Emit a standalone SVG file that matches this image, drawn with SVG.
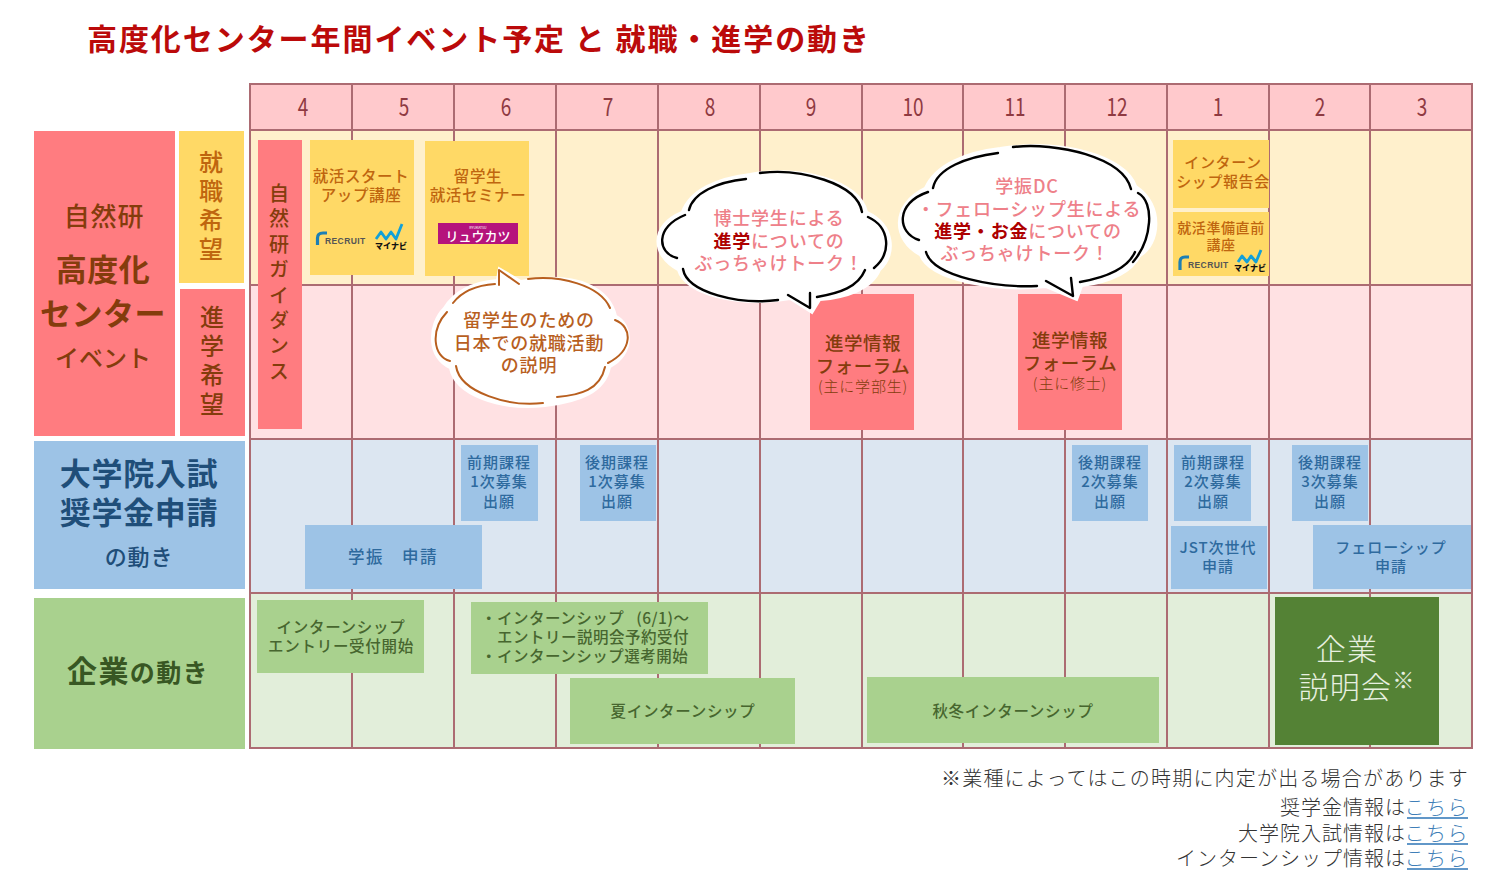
<svg xmlns="http://www.w3.org/2000/svg" width="1512" height="888" viewBox="0 0 1512 888">
<style>
text{font-family:"Noto Sans CJK JP","Noto Sans",sans-serif;text-anchor:middle}
.grid{stroke:#ac6b72;stroke-width:2;fill:none}
.b{font-weight:700}
.m{font-weight:500}
.or{fill:#bf660f;font-weight:500;letter-spacing:.6px}
.br{fill:#843c0c}
.bl{fill:#2e6a9e;font-weight:500;letter-spacing:1px}
.gr{fill:#47662f;font-weight:500;letter-spacing:.7px}
.v{writing-mode:vertical-rl;text-orientation:upright}
.cw{fill:#fff;stroke:#fff;stroke-width:2}
.ck{fill:none;stroke:#000;stroke-width:2.400;stroke-linecap:round;stroke-linejoin:round}
.co{fill:none;stroke:#b85f1f;stroke-width:2;stroke-linecap:round;stroke-linejoin:round}
.pk{fill:#ee8089;letter-spacing:.8px}
.dr{fill:#ad0000;font-weight:700}
.foot{font-size:20px;font-weight:300;fill:#333;text-anchor:end;letter-spacing:1px}
.link{font-size:20px;font-weight:300;fill:#3f7fb8;text-anchor:end;letter-spacing:1.500px}
.ul{stroke:#2e75b6;stroke-width:1.600}
.logo{font-family:"Liberation Sans",sans-serif;font-size:8.500px;fill:#555;font-weight:700;text-anchor:start;letter-spacing:.4px}
.mn{font-size:8px;font-weight:900;fill:#111}
.arc{fill:none;stroke:#1c7fb5;stroke-width:3.200}
.mnp{fill:none;stroke:#12a0d8;stroke-width:2.800;stroke-linejoin:round}
</style>
<rect width="1512" height="888" fill="#fff"/>
<text id="title" x="478" y="50" font-size="30" class="b" fill="#bb0a0a" textLength="782" lengthAdjust="spacing">高度化センター年間イベント予定 と 就職・進学の動き</text>

<g id="calendar">
<rect x="250" y="84" width="1222" height="46" fill="#ffc9cc"/>
<rect x="250" y="130" width="1222" height="155" fill="#fff0cc"/>
<rect x="250" y="285" width="1222" height="154" fill="#ffe1e3"/>
<rect x="250" y="439" width="1222" height="154" fill="#dce6f1"/>
<rect x="250" y="593" width="1222" height="155" fill="#e2eeda"/>
<path class="grid" d="M250,84H1472V748H250ZM250,130H1472M250,285H1472M250,439H1472M250,593H1472M352,84V748M454,84V748M556,84V748M658,84V748M760,84V748M862,84V748M963,84V748M1065,84V748M1167,84V748M1269,84V748M1370,84V748"/>
<g font-size="25" fill="#8f3a42">
<text transform="translate(303,116) scale(.76,1)">4</text>
<text transform="translate(404,116) scale(.76,1)">5</text>
<text transform="translate(506,116) scale(.76,1)">6</text>
<text transform="translate(608,116) scale(.76,1)">7</text>
<text transform="translate(710,116) scale(.76,1)">8</text>
<text transform="translate(811,116) scale(.76,1)">9</text>
<text transform="translate(913,116) scale(.76,1)">10</text>
<text transform="translate(1015,116) scale(.76,1)">11</text>
<text transform="translate(1117,116) scale(.76,1)">12</text>
<text transform="translate(1218,116) scale(.76,1)">1</text>
<text transform="translate(1320,116) scale(.76,1)">2</text>
<text transform="translate(1422,116) scale(.76,1)">3</text>
</g>
</g>

<g id="label-center">
<rect x="34" y="131" width="141" height="305" fill="#ff7c80"/>
<text class="m br" x="104" y="226" font-size="26" letter-spacing=".8">自然研</text>
<text class="b br" x="103" y="281" font-size="31"><tspan x="103" letter-spacing=".5">高度化</tspan><tspan x="103" dy="44" letter-spacing=".5">センター</tspan></text>
<text class="m br" x="103" y="367" font-size="24">イベント</text>
</g>
<g id="label-job">
<rect x="179" y="131" width="65" height="152" fill="#ffd966"/>
<text class="m or v" x="211" y="208" font-size="24" style="letter-spacing:5px">就職希望</text>
</g>
<g id="label-study">
<rect x="180" y="289" width="65" height="147" fill="#ff7c80"/>
<text class="m br v" x="212" y="363" font-size="24" letter-spacing="5">進学希望</text>
</g>
<g id="label-exam">
<rect x="34" y="441" width="211" height="148" fill="#9dc3e6"/>
<text class="b" fill="#1f4e79" x="139" y="485" font-size="31" letter-spacing=".7"><tspan x="139">大学院入試</tspan><tspan x="139" dy="39">奨学金申請</tspan></text>
<text class="m" fill="#1f4e79" x="139" y="565" font-size="22" letter-spacing=".8">の動き</text>
</g>
<g id="label-company">
<rect x="34" y="598" width="211" height="151" fill="#a9d18e"/>
<text class="b" fill="#385723" x="138" y="682" letter-spacing="1.400"><tspan font-size="30">企業</tspan><tspan font-size="25">の動き</tspan></text>
</g>

<g id="guidance">
<rect x="258" y="140" width="44" height="289" fill="#ff7c80"/>
<text class="m br v" x="279" y="285" font-size="20" letter-spacing="5.400">自然研ガイダンス</text>
</g>
<g id="job-start">
<rect x="310" y="140" width="104" height="135" fill="#ffd966"/>
<text class="or" x="361" y="182" font-size="15.500"><tspan x="361">就活スタート</tspan><tspan x="361" dy="19">アップ講座</tspan></text>
<path class="arc" d="M317.500,245V238Q317.500,233 323,233H327"/>
<text class="logo" x="325" y="244">RECRUIT</text>
<path class="mnp" d="M376,239L381,232L386,239L391,232L396,239L402,224"/>
<text class="mn" x="391" y="249">マイナビ</text>
</g>
<g id="intl-seminar">
<rect x="425" y="141" width="104" height="135" fill="#ffd966"/>
<text class="or" x="478" y="182" font-size="15.500"><tspan x="478">留学生</tspan><tspan x="478" dy="19">就活セミナー</tspan></text>
<rect x="438" y="223" width="80" height="21" fill="#b5137c"/>
<text fill="#fff"><tspan x="478" y="229" font-size="3.500">RYUKATSU</tspan><tspan x="478" y="241" font-size="13" font-weight="500">リュウカツ</tspan></text>
</g>
<g id="intern-report">
<rect x="1173" y="140" width="96" height="68" fill="#ffd966"/>
<text class="or" x="1223" y="168" font-size="15"><tspan x="1223">インターン</tspan><tspan x="1223" dy="19">シップ報告会</tspan></text>
</g>
<g id="job-prep">
<rect x="1173" y="212" width="96" height="64" fill="#ffd966"/>
<text class="or" x="1221" y="233" font-size="14"><tspan x="1221">就活準備直前</tspan><tspan x="1221" dy="17">講座</tspan></text>
<path class="arc" d="M1180,270V262Q1180,257 1185,257H1189"/>
<text class="logo" x="1188" y="268">RECRUIT</text>
<path class="mnp" d="M1238,262L1242,256L1247,262L1251,256L1256,262L1261,250"/>
<text class="mn" x="1250" y="271">マイナビ</text>
</g>

<g id="forum-1">
<rect x="810" y="294" width="104" height="136" fill="#ff7c80"/>
<text class="m br" x="863" y="350" font-size="18.500" letter-spacing=".5"><tspan x="863">進学情報</tspan><tspan x="863" dy="23">フォーラム</tspan></text>
<text x="863" y="392" font-size="15" font-weight="300" fill="#843c0c" letter-spacing=".8">(主に学部生)</text>
</g>
<g id="forum-2">
<rect x="1018" y="294" width="104" height="136" fill="#ff7c80"/>
<text class="m br" x="1070" y="347" font-size="18.500" letter-spacing=".5"><tspan x="1070">進学情報</tspan><tspan x="1070" dy="23">フォーラム</tspan></text>
<text x="1070" y="389" font-size="15" font-weight="300" fill="#843c0c" letter-spacing=".8">(主に修士)</text>
</g>

<g id="bubble-intl">
<path class="cw" d="M499,268L521,281C580,270 610,290 616,316C634,325 634,355 610,367C605,392 580,402 545,406C500,411 455,395 450,368C427,358 427,325 444,308C455,290 475,282 497,280Z"/>
<path class="co" d="M499,285L499,270L519,284M528,279C560,275 600,285 610,308M615,320C633,327 633,350 608,363M605,367C600,390 580,395 557,397M543,403C510,407 460,393 456,366M450,361C433,357 430,330 447,312M453,303C463,290 480,285 495,284"/>
<text class="m" fill="#b85f1f" font-size="18" letter-spacing=".8"><tspan x="529" y="327">留学生のための</tspan><tspan x="529" y="350">日本での就職活動</tspan><tspan x="529" y="372">の説明</tspan></text>
</g>
<g id="bubble-phd">
<path class="cw" d="M812,313L790,299C740,308 685,295 678,270C650,255 650,225 682,212C690,190 717,178 750,174C800,165 860,180 867,212C895,225 897,255 880,270C872,290 845,298 820,300Z"/>
<path class="ck" d="M788,295L810,308L810,293M689,210C693,193 717,182 746,179M760,173C800,168 857,183 862,212M868,217C890,227 892,253 874,268M865,270C858,287 840,293 817,297M778,300C740,305 687,293 683,269M677,258C657,253 655,227 685,215"/>
<text class="m pk" font-size="18"><tspan x="779" y="225">博士学生による</tspan><tspan x="779" y="248"><tspan class="dr">進学</tspan>についての</tspan><tspan x="779" y="270">ぶっちゃけトーク！</tspan></text>
</g>
<g id="bubble-dc">
<path class="cw" d="M1077,300L1046,287C1000,292 930,282 920,255C892,240 890,205 925,188C935,165 965,152 1000,148C1060,138 1125,155 1136,186C1165,205 1160,245 1140,256C1130,275 1105,283 1082,286Z"/>
<path class="ck" d="M1046,281L1073,296L1071,278M933,188C937,168 967,157 998,153M1013,147C1057,142 1123,157 1131,189M1138,193C1155,202 1152,240 1133,262M1135,252C1127,270 1103,278 1080,282M1037,286C997,288 933,277 926,252M919,240C897,233 895,203 928,192"/>
<text class="m pk" font-size="18"><tspan x="1027" y="193">学振DC</tspan><tspan x="1029" y="216">・フェローシップ生による</tspan><tspan x="1028" y="238"><tspan class="dr">進学・お金</tspan>についての</tspan><tspan x="1025" y="260">ぶっちゃけトーク！</tspan></text>
</g>

<g id="exam-1"><rect x="461" y="445" width="77" height="76" fill="#9dc3e6"/><text class="bl" font-size="15"><tspan x="499" y="468">前期課程</tspan><tspan x="499" y="487">1次募集</tspan><tspan x="499" y="507">出願</tspan></text></g>
<g id="exam-2"><rect x="580" y="445" width="76" height="76" fill="#9dc3e6"/><text class="bl" font-size="15"><tspan x="617" y="468">後期課程</tspan><tspan x="617" y="487">1次募集</tspan><tspan x="617" y="507">出願</tspan></text></g>
<g id="exam-3"><rect x="1072" y="445" width="76" height="76" fill="#9dc3e6"/><text class="bl" font-size="15"><tspan x="1110" y="468">後期課程</tspan><tspan x="1110" y="487">2次募集</tspan><tspan x="1110" y="507">出願</tspan></text></g>
<g id="exam-4"><rect x="1174" y="445" width="77" height="76" fill="#9dc3e6"/><text class="bl" font-size="15"><tspan x="1213" y="468">前期課程</tspan><tspan x="1213" y="487">2次募集</tspan><tspan x="1213" y="507">出願</tspan></text></g>
<g id="exam-5"><rect x="1292" y="445" width="76" height="76" fill="#9dc3e6"/><text class="bl" font-size="15"><tspan x="1330" y="468">後期課程</tspan><tspan x="1330" y="487">3次募集</tspan><tspan x="1330" y="507">出願</tspan></text></g>
<g id="gakushin"><rect x="305" y="525" width="177" height="64" fill="#9dc3e6"/><text class="bl" font-size="16.500" x="393" y="563" style="letter-spacing:1.500px">学振　申請</text></g>
<g id="jst"><rect x="1171" y="526" width="96" height="63" fill="#9dc3e6"/><text class="bl" font-size="15"><tspan x="1218" y="553">JST次世代</tspan><tspan x="1218" y="572">申請</tspan></text></g>
<g id="fellowship"><rect x="1313" y="525" width="158" height="64" fill="#9dc3e6"/><text class="bl" font-size="15"><tspan x="1391" y="553">フェローシップ</tspan><tspan x="1391" y="572">申請</tspan></text></g>

<g id="intern-entry"><rect x="257" y="600" width="167" height="73" fill="#a9d18e"/><text class="gr" font-size="15.500"><tspan x="341" y="633">インターンシップ</tspan><tspan x="341" y="652">エントリー受付開始</tspan></text></g>
<g id="intern-open"><rect x="471" y="602" width="237" height="72" fill="#a9d18e"/><text class="gr" font-size="15.500" style="text-anchor:start;letter-spacing:.5px" xml:space="preserve"><tspan x="481" y="624">・インターンシップ   (6/1)～</tspan><tspan x="497" y="643">エントリー説明会予約受付</tspan><tspan x="481" y="662">・インターンシップ選考開始</tspan></text></g>
<g id="summer"><rect x="570" y="678" width="225" height="66" fill="#a9d18e"/><text class="gr" font-size="15.500" x="683" y="717">夏インターンシップ</text></g>
<g id="autumn"><rect x="867" y="677" width="292" height="66" fill="#a9d18e"/><text class="gr" font-size="15.500" x="1013" y="717">秋冬インターンシップ</text></g>
<g id="company-session"><rect x="1275" y="597" width="164" height="148" fill="#548235"/><text fill="#e8f0e0" font-size="30" font-weight="300" letter-spacing="1.300"><tspan x="1347" y="660">企業</tspan><tspan x="1357" y="698">説明会<tspan font-size="22" dy="-10">※</tspan></tspan></text></g>

<g id="footer">
<text class="foot" x="1469" y="786" style="letter-spacing:1.200px">※業種によってはこの時期に内定が出る場合があります</text>
<text class="foot" x="1406" y="815">奨学金情報は</text><text class="link" x="1469" y="815">こちら</text>
<text class="foot" x="1406" y="841">大学院入試情報は</text><text class="link" x="1469" y="841">こちら</text>
<text class="foot" x="1406" y="866">インターンシップ情報は</text><text class="link" x="1469" y="866">こちら</text>
<path class="ul" d="M1407,818H1468M1407,844H1468M1407,869H1468"/>
</g>
</svg>
